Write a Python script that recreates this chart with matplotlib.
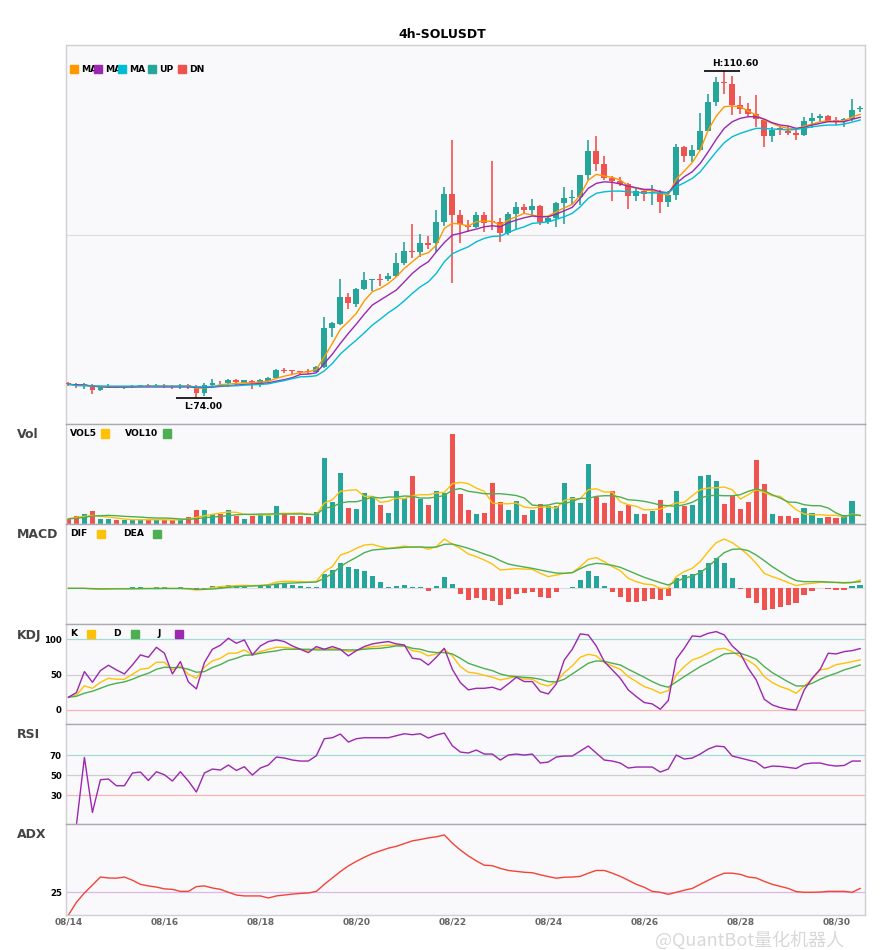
import numpy as np
import matplotlib
matplotlib.use("Agg")
import matplotlib.pyplot as plt
from matplotlib.patches import Rectangle

# 4h candles, 08/14 00:00 .. 08/30 12:00
open_ = [75.68, 75.57, 75.49, 75.42, 74.93, 75.26, 75.31, 75.12, 75.26, 75.34,
         75.42, 75.34, 75.42, 75.38, 75.31, 75.42, 75.20, 74.59, 75.49, 75.71,
         75.64, 76.01, 75.71, 75.94, 75.64, 75.94, 76.27, 77.13, 77.10, 76.99,
         76.99, 76.91, 77.44, 81.87, 82.28, 85.30, 84.55, 86.20, 87.20, 87.32,
         87.35, 87.65, 89.14, 90.48, 90.34, 91.34, 91.31, 93.69, 96.83, 94.48,
         93.28, 93.17, 94.48, 93.86, 93.69, 92.52, 94.59, 95.34, 95.04, 95.48,
         93.69, 94.18, 95.82, 96.38, 96.49, 98.95, 101.64, 100.18, 98.65, 98.28,
         97.95, 96.60, 97.16, 96.94, 97.11, 95.93, 96.72, 102.09, 101.08, 101.75,
         103.88, 107.12, 109.36, 109.14, 106.79, 106.34, 105.78, 105.11, 103.32, 104.18,
         103.88, 103.65, 103.43, 105.00, 105.33, 105.56, 105.11, 105.00, 105.22, 106.31]
high = [75.82, 75.68, 75.68, 75.57, 75.34, 75.53, 75.40, 75.34, 75.42, 75.45,
        75.57, 75.53, 75.53, 75.45, 75.53, 75.60, 75.49, 75.64, 76.09, 75.94,
        76.09, 76.16, 76.05, 76.01, 76.16, 76.35, 77.21, 77.32, 77.17, 77.05,
        77.21, 77.58, 83.06, 82.54, 87.35, 85.75, 86.31, 88.10, 87.35, 87.84,
        87.99, 90.23, 91.42, 93.47, 92.35, 92.13, 95.04, 97.64, 102.87, 95.04,
        93.92, 94.81, 94.81, 100.52, 94.14, 94.81, 95.93, 95.71, 96.27, 95.60,
        94.37, 95.93, 97.64, 97.28, 99.00, 102.87, 103.32, 101.08, 98.88, 98.76,
        98.09, 97.50, 97.28, 97.83, 97.28, 97.16, 102.42, 102.20, 102.31, 105.86,
        108.02, 109.89, 110.60, 110.03, 107.79, 107.01, 107.91, 105.22, 104.32, 104.44,
        104.44, 103.99, 105.44, 105.89, 105.78, 105.67, 105.44, 105.33, 107.46, 106.67]
low = [75.34, 75.12, 74.97, 74.48, 74.82, 75.09, 75.12, 75.01, 75.12, 75.20,
       75.20, 75.20, 75.09, 75.04, 75.01, 75.04, 74.00, 74.22, 75.34, 75.26,
       75.20, 75.49, 75.68, 75.04, 75.26, 75.79, 76.24, 76.76, 76.57, 76.74,
       76.65, 76.88, 77.39, 80.86, 82.17, 83.93, 84.18, 86.09, 85.97, 86.57,
       87.13, 87.60, 88.88, 89.70, 89.81, 90.67, 90.34, 93.25, 86.90, 91.31,
       92.58, 92.99, 92.58, 92.80, 91.49, 92.24, 92.91, 94.73, 94.37, 93.36,
       93.47, 93.13, 93.47, 95.71, 95.60, 98.39, 99.43, 98.39, 96.08, 97.72,
       95.15, 96.04, 96.04, 95.60, 94.70, 95.37, 96.16, 100.44, 100.44, 101.70,
       103.85, 106.67, 108.02, 105.67, 105.78, 105.48, 104.32, 102.09, 102.65, 103.43,
       103.43, 102.87, 103.32, 104.21, 104.88, 104.88, 104.55, 104.32, 105.00, 106.00]
close = [75.57, 75.45, 75.60, 74.90, 75.31, 75.34, 75.23, 75.26, 75.38, 75.42,
         75.34, 75.42, 75.34, 75.31, 75.42, 75.34, 74.59, 75.49, 75.71, 75.64,
         76.05, 75.82, 76.01, 75.71, 76.05, 76.24, 77.13, 77.05, 76.99, 76.91,
         76.91, 77.44, 81.83, 82.36, 85.34, 84.60, 86.20, 87.20, 87.32, 87.20,
         87.65, 89.14, 90.45, 90.37, 91.34, 91.09, 93.69, 96.83, 94.51, 93.47,
         93.10, 94.48, 93.64, 93.73, 92.52, 94.59, 95.34, 95.04, 95.48, 93.69,
         94.18, 95.82, 96.38, 96.49, 98.95, 101.64, 100.18, 98.65, 98.28, 97.98,
         96.60, 97.16, 96.88, 97.11, 95.93, 96.72, 102.09, 101.08, 101.75, 103.88,
         107.12, 109.36, 109.21, 106.79, 106.34, 105.78, 105.22, 103.32, 103.99, 103.99,
         103.65, 103.43, 105.00, 105.33, 105.56, 105.00, 105.00, 105.22, 106.23, 106.45]

ma_fast = [75.53, 75.49, 75.49, 75.34, 75.26, 75.23, 75.20, 75.23, 75.26, 75.30,
           75.34, 75.34, 75.36, 75.34, 75.34, 75.36, 75.10, 75.15, 75.26, 75.50,
           75.57, 75.64, 75.71, 75.71, 75.79, 75.90, 76.20, 76.46, 76.65, 76.88,
           76.94, 77.21, 78.62, 80.12, 81.69, 82.54, 83.48, 84.89, 85.90, 86.28,
           86.83, 87.57, 88.51, 89.25, 90.00, 90.26, 91.12, 92.99, 93.55, 93.47,
           93.25, 93.73, 93.81, 93.77, 93.36, 93.92, 94.29, 94.67, 94.48, 94.29,
           94.37, 94.85, 95.29, 95.68, 96.72, 98.39, 99.03, 98.84, 98.70, 98.39,
           97.76, 97.47, 97.28, 97.20, 96.91, 96.72, 98.50, 99.40, 100.35, 101.75,
           103.99, 105.55, 106.60, 106.67, 106.60, 106.10, 105.67, 105.11, 104.74, 104.36,
           104.18, 104.10, 104.44, 104.66, 104.92, 105.00, 104.98, 105.05, 105.44, 105.75]
ma_mid = [75.53, 75.49, 75.45, 75.34, 75.29, 75.23, 75.24, 75.25, 75.25, 75.25,
          75.25, 75.25, 75.25, 75.25, 75.25, 75.25, 75.20, 75.20, 75.23, 75.31,
          75.38, 75.45, 75.53, 75.57, 75.64, 75.71, 75.90, 76.07, 76.29, 76.65,
          76.69, 76.83, 77.88, 78.92, 80.12, 81.24, 82.28, 83.40, 84.41, 84.97,
          85.53, 86.09, 87.01, 87.95, 88.69, 89.25, 90.37, 91.40, 92.24, 92.43,
          92.69, 92.91, 93.17, 93.28, 93.17, 93.62, 93.92, 94.18, 94.37, 94.29,
          94.29, 94.59, 94.96, 95.34, 96.35, 97.47, 98.02, 98.20, 98.14, 97.95,
          97.72, 97.53, 97.35, 97.35, 97.08, 96.97, 98.02, 98.76, 99.32, 100.26,
          101.56, 102.95, 104.18, 104.92, 105.30, 105.48, 105.48, 105.22, 104.81, 104.55,
          104.44, 104.18, 104.29, 104.55, 104.74, 104.92, 104.92, 104.92, 105.19, 105.41]
ma_slow = [75.57, 75.40, 75.38, 75.36, 75.35, 75.34, 75.34, 75.34, 75.34, 75.34,
           75.34, 75.34, 75.34, 75.34, 75.34, 75.33, 75.26, 75.26, 75.31, 75.38,
           75.38, 75.38, 75.45, 75.49, 75.53, 75.60, 75.79, 75.96, 76.18, 76.38,
           76.41, 76.50, 77.05, 77.88, 78.92, 79.74, 80.49, 81.31, 82.17, 82.84,
           83.55, 84.15, 84.89, 85.72, 86.45, 87.01, 87.95, 89.25, 90.15, 90.56,
           90.93, 91.49, 91.87, 92.09, 92.13, 92.54, 92.88, 93.17, 93.55, 93.62,
           93.73, 94.00, 94.29, 94.67, 95.41, 96.35, 96.91, 97.08, 97.16, 97.16,
           97.08, 97.02, 96.97, 96.97, 96.91, 96.97, 97.64, 98.09, 98.58, 99.32,
           100.44, 101.56, 102.57, 103.24, 103.62, 103.91, 104.18, 104.18, 104.10, 104.07,
           103.99, 104.07, 104.18, 104.36, 104.47, 104.55, 104.55, 104.66, 104.88, 105.11]

volume = [53, 83, 103, 133, 53, 53, 43, 37, 43, 43,
          43, 43, 43, 37, 43, 73, 143, 143, 103, 103,
          143, 83, 53, 83, 87, 83, 183, 103, 83, 83,
          73, 123, 663, 223, 513, 163, 153, 313, 263, 193,
          113, 333, 263, 483, 250, 193, 333, 310, 903, 303,
          143, 103, 113, 413, 223, 143, 233, 93, 143, 203,
          183, 183, 413, 273, 213, 603, 273, 213, 333, 133,
          193, 103, 103, 133, 243, 113, 333, 183, 193, 483,
          493, 433, 203, 283, 153, 223, 643, 403, 103, 83,
          83, 63, 163, 113, 63, 73, 63, 93, 233, 3]
vol5 = [53, 67, 77, 87, 77, 70, 60, 50, 43, 43,
        43, 43, 43, 40, 43, 50, 67, 83, 97, 110,
        120, 117, 97, 93, 93, 87, 103, 107, 107, 110,
        100, 93, 210, 243, 327, 337, 343, 277, 277, 217,
        227, 260, 253, 283, 293, 293, 310, 317, 403, 417,
        403, 360, 327, 210, 203, 203, 210, 170, 160, 170,
        170, 160, 237, 253, 253, 343, 353, 320, 320, 223,
        193, 177, 143, 143, 150, 183, 210, 217, 283, 343,
        360, 363, 370, 343, 250, 293, 343, 317, 283, 277,
        210, 143, 100, 93, 93, 87, 87, 70, 100, 83]
vol10 = [53, 57, 67, 80, 83, 87, 83, 77, 73, 70,
         63, 60, 60, 57, 50, 47, 53, 63, 70, 77,
         83, 93, 97, 97, 100, 100, 103, 100, 100, 100,
         97, 93, 160, 170, 210, 223, 223, 243, 270, 260,
         270, 270, 280, 277, 260, 260, 270, 285, 340, 355,
         327, 317, 303, 303, 303, 295, 285, 260, 190, 183,
         190, 210, 203, 227, 257, 257, 277, 283, 283, 270,
         243, 237, 227, 210, 190, 183, 177, 193, 217, 260,
         283, 287, 283, 283, 293, 327, 350, 333, 293, 260,
         220, 217, 193, 183, 183, 160, 110, 77, 93, 87]

dif = [0, 0, 0, -0.7, -1, -0.7, -0.3, -0.3, -0.3, -0.3,
       0, 0, 0, 0, 0, -0.7, -1.7, -1, 0.7, 1.7,
       2.3, 2.7, 3, 2.7, 3, 3.7, 6.3, 7, 7, 6.7,
       6.3, 7, 16.7, 21.7, 33.3, 36, 40, 43.3, 44, 41.7,
       40, 41, 42.3, 41, 41.7, 39, 41.7, 49.3, 44.3, 40,
       34.3, 31.7, 28.3, 24.3, 18.3, 19, 19.7, 19.3, 19, 15,
       11.7, 13.3, 15, 15.7, 21.7, 29, 30.7, 26.7, 21.7, 17.7,
       10, 6.7, 4.3, 3.7, 0, 0, 11.7, 16.7, 20, 26.7,
       36.7, 45.7, 49.3, 45.7, 40, 33.3, 25, 15, 11.7, 9,
       5.7, 2.7, 4.3, 5, 6, 6, 5.7, 5, 5.7, 8.3]
dea = [0, 0, 0, -0.3, -0.5, -0.5, -0.5, -0.5, -0.5, -0.3,
       -0.3, -0.3, -0.2, -0.2, -0.2, -0.3, -1, -1, -0.7, 0,
       1, 1.7, 2, 2.3, 2.7, 3, 4.3, 5, 5.3, 5.7,
       6, 6.3, 10, 15, 21.7, 26.7, 31, 35.7, 38.3, 39,
       39.7, 40.3, 41, 41.3, 41.3, 41, 41.3, 44, 44.3, 42.3,
       40, 37.3, 34.3, 31.7, 27.7, 24.3, 22.7, 21.3, 20, 18.3,
       16.7, 15.3, 15, 15.7, 19.7, 23.3, 25, 24.3, 23, 21,
       17.7, 14.3, 11, 8.3, 5.7, 3.3, 7, 10, 12.3, 15.7,
       21.7, 29, 35.7, 39, 39.3, 37.7, 33.3, 27.7, 21.7, 16.7,
       11.7, 7.7, 6.7, 6.7, 6.7, 6.3, 6, 5.7, 6, 6.7]
macd_hist = [0, 0, 0, -0.5, 0, 0.3, -0.7, 0, 1, 1,
             0, 1, 1, 0, 1, 0, -1.7, -0.3, 2.3, 2.3,
             3.3, 2.3, 1.7, 0.7, 2, 2.3, 4.3, 4.3, 3.3, 2.3,
             1.3, 1, 14.3, 18.3, 25.3, 21.3, 19.3, 17.3, 12.3, 6.3,
             1.3, 2.3, 3.3, 1.3, 1.3, -2.3, 2.3, 11.3, 4.3, -5.7,
             -11.7, -9.7, -11.7, -12.7, -16.7, -10.7, -5.7, -4.7, -3.7, -8.7,
             -9.7, -3.7, 0, 1.3, 8.3, 17.3, 12.3, 2.3, -3.7, -8.7,
             -13.7, -13.7, -12.7, -10.7, -11.7, -7.7, 10.3, 13.3, 14.3, 18.3,
             25.3, 30.3, 25.3, 10.3, -0.7, -9.7, -14.7, -21.7, -20.7, -18.7,
             -16.7, -14.7, -6.7, -2.7, 0, -0.7, -1.3, -1.7, 2.3, 3.3]

k_line = [17.9, 21.2, 34.0, 30.6, 39.0, 44.8, 43.4, 43.4, 50.4, 57.5,
          59.0, 67.4, 67.4, 56.6, 62.2, 50.4, 44.8, 60.3, 69.3, 73.0,
          80.2, 80.2, 84.9, 77.8, 82.5, 85.8, 88.6, 88.6, 87.2, 85.8,
          83.9, 87.2, 85.8, 86.8, 85.8, 82.5, 83.9, 87.2, 89.6, 90.5,
          91.5, 91.5, 90.5, 83.9, 82.0, 76.4, 79.2, 85.8, 76.4, 61.3,
          53.3, 51.9, 49.0, 46.2, 42.4, 44.8, 47.1, 43.8, 43.4, 36.8,
          33.9, 39.6, 52.8, 62.2, 74.5, 78.7, 76.4, 67.0, 62.2, 57.5,
          47.1, 40.1, 33.0, 29.2, 23.6, 27.3, 49.5, 61.3, 70.7, 74.5,
          80.2, 85.8, 87.2, 82.5, 75.4, 69.8, 62.2, 47.1, 38.7, 33.0,
          29.2, 23.6, 33.9, 43.4, 56.6, 58.5, 64.1, 66.0, 68.4, 70.7]
d_line = [17.9, 19.3, 23.6, 26.4, 30.6, 34.9, 37.7, 39.6, 43.4, 48.1,
          51.9, 57.5, 60.3, 59.9, 59.9, 57.5, 53.3, 54.2, 59.9, 64.1,
          69.8, 73.1, 77.3, 77.8, 80.2, 82.0, 83.5, 85.8, 85.8, 85.8,
          85.8, 84.9, 84.9, 84.9, 84.9, 84.9, 84.9, 85.8, 86.8, 87.2,
          88.6, 90.5, 90.5, 87.2, 85.8, 82.5, 81.1, 81.1, 79.2, 73.1,
          66.0, 62.2, 58.5, 55.6, 50.9, 48.1, 47.1, 46.2, 45.3, 43.4,
          40.1, 39.6, 43.4, 50.9, 58.5, 66.0, 69.3, 68.8, 66.0, 63.6,
          57.5, 51.9, 46.2, 40.1, 34.9, 32.1, 39.6, 47.1, 54.2, 61.3,
          67.0, 73.1, 79.2, 80.2, 80.2, 76.4, 71.7, 61.3, 52.8, 46.2,
          39.6, 33.9, 33.9, 37.7, 43.4, 48.1, 51.9, 56.6, 59.9, 63.6]
j_line = [17.9, 24.5, 54.2, 39.1, 55.6, 63.2, 56.6, 50.9, 63.6, 77.8,
          74.5, 88.6, 80.2, 50.9, 68.4, 39.6, 29.7, 67.0, 85.8, 91.5,
          101.4, 94.3, 99.0, 77.8, 90.5, 96.7, 99.0, 96.7, 90.5, 85.8,
          81.1, 89.6, 85.8, 89.6, 85.8, 76.4, 83.9, 89.6, 93.4, 95.2,
          96.7, 93.4, 91.9, 73.1, 71.7, 63.6, 74.5, 87.2, 57.5, 38.7,
          28.3, 30.6, 30.6, 32.1, 28.3, 36.8, 46.2, 40.1, 40.1, 25.9,
          22.6, 36.8, 70.7, 85.8, 107.5, 106.1, 90.5, 68.4, 56.6, 44.8,
          28.3, 18.9, 10.4, 8.5, 0.9, 13.2, 71.7, 87.2, 104.7, 103.7,
          108.4, 110.8, 106.1, 90.5, 80.2, 58.9, 42.4, 15.1, 7.1, 3.3,
          0.9, 0.0, 28.3, 44.8, 57.5, 80.2, 79.2, 82.5, 83.9, 86.8]

rsi = [np.nan, 0, 67.6, 12.6, 45.3, 46.0, 39.3, 39.3, 52.0, 53.0,
       44.6, 53.3, 50.3, 44.0, 53.3, 44.0, 33.0, 52.0, 56.0, 55.0,
       60.0, 54.6, 58.3, 50.0, 57.0, 60.0, 68.0, 67.0, 65.0, 64.0,
       64.0, 69.3, 86.3, 87.3, 91.0, 83.0, 86.3, 87.3, 87.3, 87.3,
       87.3, 89.3, 91.3, 90.3, 91.3, 87.0, 90.0, 92.0, 79.3, 73.0,
       72.0, 75.0, 71.0, 71.0, 65.0, 70.0, 71.0, 70.0, 71.0, 62.0,
       63.0, 68.0, 69.0, 69.0, 74.0, 79.0, 72.0, 65.0, 64.0, 62.0,
       57.0, 58.0, 58.0, 58.0, 53.0, 56.0, 70.0, 66.0, 67.0, 71.0,
       76.0, 79.0, 78.3, 69.0, 67.0, 65.0, 63.0, 57.0, 59.0, 58.6,
       57.6, 56.6, 61.0, 62.0, 62.0, 60.0, 59.0, 59.6, 64.0, 64.0]

adx = [15.0, 20.6, 24.7, 28.2, 31.7, 31.3, 31.2, 31.7, 30.3, 28.5,
       27.8, 27.3, 26.5, 26.3, 25.4, 25.4, 27.5, 27.8, 26.9, 26.3,
       25.0, 23.8, 23.4, 23.4, 23.4, 22.5, 23.4, 23.8, 24.2, 24.5,
       24.7, 25.4, 28.5, 31.3, 34.1, 36.6, 38.6, 40.4, 42.0, 43.2,
       44.4, 45.2, 46.4, 47.6, 48.2, 48.9, 49.4, 50.2, 46.6, 43.6,
       41.0, 38.8, 36.9, 36.7, 35.5, 34.6, 34.2, 33.8, 33.6, 32.7,
       31.9, 31.2, 31.6, 31.7, 32.0, 33.4, 34.6, 34.6, 33.4, 32.0,
       30.3, 28.5, 27.2, 25.4, 25.0, 24.1, 25.0, 25.9, 26.7, 28.5,
       30.3, 32.0, 33.4, 33.4, 32.9, 31.7, 31.3, 29.8, 28.5, 27.6,
       26.7, 25.3, 25.0, 25.0, 25.1, 25.4, 25.4, 25.4, 25.0, 26.7]

date_labels = ['08/14', '08/16', '08/18', '08/20', '08/22', '08/24', '08/26', '08/28', '08/30']
bars_per_label = 12  # 2 days of 4h bars

UP = '#26a69a'
DN = '#ef5350'
BG = '#f9f9fb'

o = np.array(open_)
h = np.array(high)
l = np.array(low)
c = np.array(close)
x = np.arange(len(c))
cols = [UP if c[i] >= o[i] else DN for i in range(len(c))]

fig = plt.figure(figsize=(8.85, 9.5), dpi=100)
gs = fig.add_gridspec(6, 1, height_ratios=[379, 100, 100, 100, 100, 91],
                      left=0.0746, right=0.9774, top=0.9526, bottom=0.0368, hspace=0)
axes = [fig.add_subplot(gs[0])]
for r in range(1, 6):
    axes.append(fig.add_subplot(gs[r], sharex=axes[0]))
ax_k, ax_v, ax_m, ax_kdj, ax_rsi, ax_adx = axes

for a in axes:
    a.set_facecolor(BG)
    for s in a.spines.values():
        s.set_color('#cfcfd6')
        s.set_linewidth(1.0)
    a.spines['top'].set_color('#a9a9b0')
    a.tick_params(length=0, labelsize=6.2, pad=3)
    a.tick_params(axis='x', labelbottom=False)
ax_k.spines['top'].set_color('#cfcfd6')

# --- candles
ax_k.vlines(x, l, h, colors=cols, linewidth=1.2, zorder=2)
body = np.maximum(np.abs(c - o), 0.1)
ax_k.bar(x, body, bottom=np.minimum(o, c), width=0.72, color=cols, zorder=3)
ax_k.plot(x, ma_fast, color='#ff9800', lw=1.0, zorder=4)
ax_k.plot(x, ma_mid, color='#9c27b0', lw=1.0, zorder=4)
ax_k.plot(x, ma_slow, color='#00bcd4', lw=1.0, zorder=4)
ax_k.set_xlim(-0.3, 99.6)
ax_k.set_ylim(71.1, 113.5)
ax_k.set_yticks([92.3])
ax_k.set_yticklabels([])
ax_k.grid(axis='y', color='#dcdce0', lw=0.8)
ax_k.set_axisbelow(True)

i_lo = int(np.argmin(l))
i_hi = int(np.argmax(h))
ax_k.hlines(l[i_lo], i_lo - 2.5, i_lo + 2.0, color='black', lw=1.2, zorder=5)
ax_k.annotate('L:%.2f' % l[i_lo], (i_lo - 1.5, l[i_lo]), xytext=(0, -3),
              textcoords='offset points', ha='left', va='top', fontsize=6.6, fontweight='bold')
ax_k.hlines(h[i_hi], i_hi - 2.5, i_hi + 2.0, color='black', lw=1.2, zorder=5)
ax_k.annotate('H:%.2f' % h[i_hi], (i_hi - 1.5, h[i_hi]), xytext=(0, 2),
              textcoords='offset points', ha='left', va='bottom', fontsize=6.6, fontweight='bold')

# --- volume
ax_v.bar(x, volume, width=0.68, color=cols)
ax_v.plot(x, vol5, color='#ffc107', lw=1.0)
ax_v.plot(x, vol10, color='#4caf50', lw=1.0)
ax_v.set_ylim(0, 1000)
ax_v.set_yticks([])

# --- macd
hist_cols = [UP if v >= 0 else DN for v in macd_hist]
ax_m.bar(x, macd_hist, width=0.68, color=hist_cols)
ax_m.plot(x, dif, color='#ffc107', lw=1.0)
ax_m.plot(x, dea, color='#4caf50', lw=1.0)
ax_m.axhline(0, color='#dcdce0', lw=0.8, zorder=0)
ax_m.set_ylim(-35.7, 64.3)
ax_m.set_yticks([])

# --- kdj
ax_kdj.axhline(100, color='#a6dbd4', lw=0.9)
ax_kdj.axhline(50, color='#cfcfd3', lw=0.9)
ax_kdj.axhline(0, color='#ffb3b3', lw=0.9)
ax_kdj.plot(x, k_line, color='#ffc107', lw=1.0)
ax_kdj.plot(x, d_line, color='#4caf50', lw=1.0)
ax_kdj.plot(x, j_line, color='#9c27b0', lw=1.0)
ax_kdj.set_ylim(-20, 121.5)
ax_kdj.set_yticks([0, 50, 100])

# --- rsi
ax_rsi.axhline(70, color='#a6dbd4', lw=0.9)
ax_rsi.axhline(50, color='#cfcfd3', lw=0.9)
ax_rsi.axhline(30, color='#ffb3b3', lw=0.9)
ax_rsi.plot(x, rsi, color='#9c27b0', lw=1.0)
ax_rsi.set_ylim(1, 101)
ax_rsi.set_yticks([30, 50, 70])

# --- adx
ax_adx.axhline(25, color='#dcb8e6', lw=0.9)
ax_adx.plot(x, adx, color='#f44336', lw=1.0)
ax_adx.set_ylim(15, 55)
ax_adx.set_yticks([25])
ax_adx.set_xticks(np.arange(len(date_labels)) * bars_per_label)
ax_adx.set_xticklabels(date_labels)
ax_adx.tick_params(axis='x', labelbottom=True, labelsize=6.5, labelcolor='#666666', pad=2)
for t in ax_adx.get_xticklabels():
    t.set_fontweight('bold')

for a in axes:
    for t in a.get_yticklabels():
        t.set_fontweight('bold')

fig.suptitle('4h-SOLUSDT', x=0.5, y=1 - 34 / 950, va='center', fontsize=9, fontweight='bold')


# legends drawn in figure pixels (from top-left)
def fx(px):
    return px / 885.0


def fy(py):
    return 1 - py / 950.0


def square(px, py, color):
    fig.add_artist(Rectangle((fx(px), fy(py + 4)), 8 / 885.0, 8 / 950.0,
                             transform=fig.transFigure, color=color, zorder=10))


def label(px, py, s, size=6.6):
    fig.text(fx(px), fy(py), s, fontsize=size, fontweight='bold', va='center', ha='left', zorder=9)


for px, col, name in [(70, '#ff9800', 'MA'), (94, '#9c27b0', 'MA'), (118, '#00bcd4', 'MA'),
                      (148, UP, 'UP'), (178, DN, 'DN')]:
    square(px, 69, col)
    label(px + 11, 69, name)

label(70, 433.5, 'VOL5')
square(101, 433.5, '#ffc107')
label(125, 433.5, 'VOL10')
square(163, 433.5, '#4caf50')

label(70, 533.5, 'DIF')
square(97, 533.5, '#ffc107')
label(123, 533.5, 'DEA')
square(153, 533.5, '#4caf50')

label(70, 633.5, 'K')
square(87, 633.5, '#ffc107')
label(113, 633.5, 'D')
square(131, 633.5, '#4caf50')
label(157, 633.5, 'J')
square(175, 633.5, '#9c27b0')

for py, name in [(435, 'Vol'), (535, 'MACD'), (635, 'KDJ'), (735, 'RSI'), (835, 'ADX')]:
    fig.text(fx(17), fy(py), name, fontsize=9, fontweight='bold', color='#444444',
             va='center', ha='left')

# watermark, kept below the date labels
fig.text(fx(655), fy(940), '@QuantBot量化机器人', fontsize=13, color='#d4d4d4', alpha=0.9,
         family=['Noto Sans CJK SC', 'DejaVu Sans'], va='center', ha='left', zorder=20)

fig.savefig('out.png', dpi=100, facecolor='white')
